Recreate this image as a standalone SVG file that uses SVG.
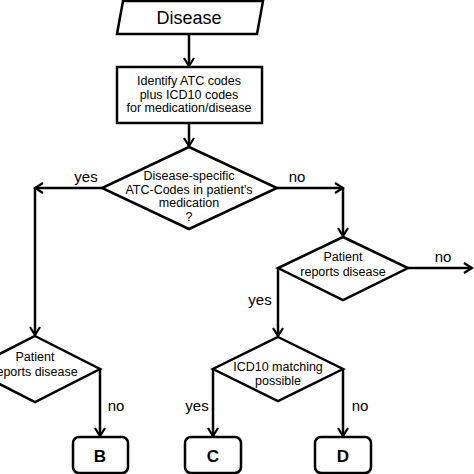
<svg xmlns="http://www.w3.org/2000/svg" width="474" height="474" viewBox="0 0 474 474">
<defs>
<marker id="ah" markerWidth="12" markerHeight="12" viewBox="0 0 12 12" refX="10" refY="6" orient="auto" markerUnits="userSpaceOnUse">
<polyline points="2,1 10,6 2,11" fill="none" stroke="#000" stroke-width="2.2"/>
</marker>
<style>
.s{fill:#fff;stroke:#000;stroke-width:2.5}
.c{fill:none;stroke:#000;stroke-width:2.5;marker-end:url(#ah)}
.l{fill:none;stroke:#000;stroke-width:2.5}
text{font-family:"Liberation Sans",Arial,sans-serif;fill:#000;text-anchor:middle}
.t{font-size:12.5px}
.lb{font-size:15px}
.b{font-size:17px;font-weight:bold}
</style>
</defs>
<rect width="474" height="474" fill="#fff"/>
<g id="connectors">
<line class="c" x1="189" y1="34" x2="189" y2="66"/>
<line class="c" x1="189" y1="123" x2="189" y2="146"/>
<polyline class="c" points="102,188 35,188"/>
<line class="c" x1="35" y1="188" x2="35" y2="335"/>
<polyline class="c" points="277,188 343,188"/>
<line class="c" x1="343" y1="188" x2="343" y2="236"/>
<line class="c" x1="408" y1="268" x2="472" y2="268"/>
<polyline class="c" points="278,268 278,336"/>
<polyline class="c" points="100,369 100,436"/>
<polyline class="c" points="213,369 213,436"/>
<polyline class="c" points="343,369 343,436"/>
<text class="lb" x="86" y="182">yes</text>
<text class="lb" x="297" y="182">no</text>
<text class="lb" x="443" y="262">no</text>
<text class="lb" x="260" y="305">yes</text>
<text class="lb" x="116" y="411">no</text>
<text class="lb" x="197" y="411">yes</text>
<text class="lb" x="360" y="411">no</text>
</g>
<g id="disease">
<polygon class="s" points="123,1 263,1 257,34 117,34"/>
<text x="189" y="24" style="font-size:18px">Disease</text>
</g>
<g id="identify">
<rect class="s" x="117" y="67" width="145" height="56"/>
<text class="t" x="189" y="85">Identify ATC codes</text>
<text class="t" x="189" y="99">plus ICD10 codes</text>
<text class="t" x="189" y="112">for medication/disease</text>
</g>
<g id="atc">
<polygon class="s" points="189,147 277,188 189,229 102,188"/>
<text class="t" x="189" y="180">Disease-specific</text>
<text class="t" x="189" y="194">ATC-Codes in patient's</text>
<text class="t" x="189" y="207">medication</text>
<text class="t" x="189" y="221">?</text>
</g>
<g id="reports1">
<polygon class="s" points="343,237 408,268 343,300 278,268"/>
<text class="t" x="343" y="261">Patient</text>
<text class="t" x="343" y="276">reports disease</text>
</g>
<g id="reports2">
<polygon class="s" points="35,336 100,369 35,402 -30,369"/>
<text class="t" x="35" y="361">Patient</text>
<text class="t" x="35" y="376">reports disease</text>
</g>
<g id="icd">
<polygon class="s" points="278,337 343,369 278,401 213,369"/>
<text class="t" x="278" y="371">ICD10 matching</text>
<text class="t" x="278" y="385">possible</text>
</g>
<g id="B">
<rect class="s" x="73" y="437" width="55" height="36" rx="6"/>
<text class="b" x="100" y="462">B</text>
</g>
<g id="C">
<rect class="s" x="185" y="437" width="56" height="36" rx="6"/>
<text class="b" x="213" y="462">C</text>
</g>
<g id="D">
<rect class="s" x="315" y="437" width="56" height="36" rx="6"/>
<text class="b" x="343" y="462">D</text>
</g>
</svg>
